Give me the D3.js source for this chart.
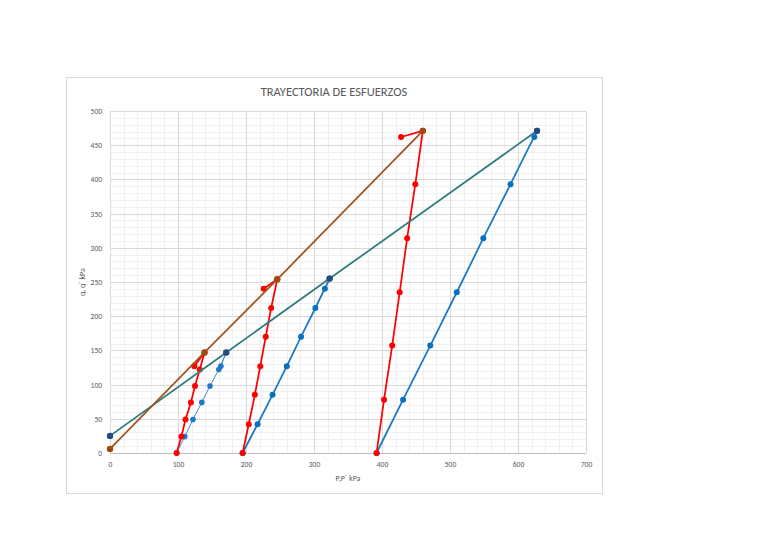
<!DOCTYPE html>
<html>
<head>
<meta charset="utf-8">
<script src="https://cdn.jsdelivr.net/npm/d3@7"></script>
<style>
  body { margin: 0; background: #fff; }
  text { font-family: Calibri, Carlito, "Liberation Sans", "Open Sans", sans-serif; fill: #595959; }
</style>
</head>
<body>
<script>
// datos
const xTicks = [0, 100, 200, 300, 400, 500, 600, 700];
const yTicks = [0, 50, 100, 150, 200, 250, 300, 350, 400, 450, 500];

// envolventes de falla
const envBrownP = [0, 139, 246, 460];
const envBrownQ = [6, 147, 254, 471];
const envTealP = [0, 171, 323, 628];
const envTealQ = [25, 147, 255, 471];

// trayectorias efectivas (rojo)
const red1P = [98, 105, 111, 119, 125, 132, 139, 124];
const red1Q = [0, 24, 49, 74, 98, 122, 147, 127];
const red2P = [195, 204, 213, 221, 229, 237, 246, 226];
const red2Q = [0, 42, 85, 127, 170, 212, 254, 240];
const red3P = [392, 403, 415, 426, 437, 449, 460, 428];
const red3Q = [0, 78, 157, 235, 314, 393, 471, 462];

// trayectorias totales (azul)
const blue1P = [98, 110, 122, 135, 147, 160, 171, 163];
const blue1Q = [0, 24, 49, 74, 98, 122, 147, 127];
const blue2P = [195, 217, 239, 260, 281, 302, 323, 316];
const blue2Q = [0, 42, 85, 127, 170, 212, 255, 240];
const blue3P = [392, 431, 471, 510, 549, 589, 628, 624];
const blue3Q = [0, 78, 157, 235, 314, 393, 471, 462];

const W = 768, H = 543;
const pLeft = 110, pRight = 586, pTop = 111, pBottom = 453;

const svg = d3.select("body").append("svg")
    .attr("width", W)
    .attr("height", H);

// marco del grafico
svg.append("rect")
    .attr("x", 66.5).attr("y", 77.5)
    .attr("width", 536).attr("height", 416)
    .attr("fill", "#fff")
    .attr("stroke", "#d9d9d9");

svg.append("text")
    .attr("x", 334).attr("y", 96)
    .attr("text-anchor", "middle")
    .attr("font-size", 12.5)
    .text("TRAYECTORIA DE ESFUERZOS");

const x = d3.scaleLinear([0, 700], [pLeft, pRight]);
const y = d3.scaleLinear([0, 500], [pBottom, pTop]);

// cuadricula menor
const grid = svg.append("g");
grid.selectAll(".vminor")
    .data(d3.range(0, 701, 20))
    .enter().append("line")
    .attr("x1", d => Math.round(x(d)) + 0.5).attr("x2", d => Math.round(x(d)) + 0.5)
    .attr("y1", pTop).attr("y2", pBottom)
    .attr("stroke", "#f0f0f0");
grid.selectAll(".hminor")
    .data(d3.range(0, 501, 10))
    .enter().append("line")
    .attr("y1", d => Math.round(y(d)) + 0.5).attr("y2", d => Math.round(y(d)) + 0.5)
    .attr("x1", pLeft).attr("x2", pRight)
    .attr("stroke", "#f0f0f0");

// cuadricula mayor
grid.selectAll(".vmajor")
    .data(xTicks)
    .enter().append("line")
    .attr("x1", d => Math.round(x(d)) + 0.5).attr("x2", d => Math.round(x(d)) + 0.5)
    .attr("y1", pTop).attr("y2", pBottom)
    .attr("stroke", "#d9d9d9");
grid.selectAll(".hmajor")
    .data(yTicks)
    .enter().append("line")
    .attr("y1", d => Math.round(y(d)) + 0.5).attr("y2", d => Math.round(y(d)) + 0.5)
    .attr("x1", pLeft).attr("x2", pRight)
    .attr("stroke", "#d9d9d9");

// ejes
const xAxis = svg.append("g")
    .attr("transform", `translate(0, ${pBottom + 0.5})`)
    .call(d3.axisBottom(x).tickValues(xTicks).tickSize(0).tickPadding(8));
const yAxis = svg.append("g")
    .attr("transform", `translate(${pLeft}, 0)`)
    .call(d3.axisLeft(y).tickValues(yTicks).tickSize(0).tickPadding(8));
for (let ax of [xAxis, yAxis]) {
    ax.select(".domain").remove();
    ax.selectAll("text")
        .attr("font-size", 7.5)
        .attr("fill", "#595959")
        .style("font-family", "Calibri, Carlito, 'Liberation Sans', sans-serif");
}
svg.append("line")
    .attr("x1", pLeft).attr("x2", pRight)
    .attr("y1", pBottom + 0.5).attr("y2", pBottom + 0.5)
    .attr("stroke", "#bfbfbf");

svg.append("text")
    .attr("x", 348).attr("y", 481)
    .attr("text-anchor", "middle")
    .attr("font-size", 8)
    .text("P,P´ kPa");
svg.append("text")
    .attr("transform", "translate(85, 282) rotate(-90)")
    .attr("text-anchor", "middle")
    .attr("font-size", 8)
    .text("q, q´ kPa");

const lineMaker = d3.line()
    .x(d => x(d[0]))
    .y(d => y(d[1]));

function serie(ps, qs, color, width, markerColor, r) {
    const pts = ps.map((p, i) => [p, qs[i]]);
    const g = svg.append("g");
    g.append("path")
        .datum(pts)
        .attr("fill", "none")
        .attr("stroke", color)
        .attr("stroke-width", width)
        .attr("stroke-linejoin", "round")
        .attr("d", lineMaker);
    g.selectAll("circle")
        .data(pts)
        .enter().append("circle")
        .attr("cx", d => x(d[0]))
        .attr("cy", d => y(d[1]))
        .attr("r", r)
        .attr("fill", markerColor);
}

serie(blue1P, blue1Q, "#3d8fd6", 1, "#1f77c8", 2.8);
serie(blue2P, blue2Q, "#1a78c8", 1.75, "#0b6fc0", 3);
serie(blue3P, blue3Q, "#1a78c8", 1.75, "#0b6fc0", 3);
serie(red1P, red1Q, "#ff0000", 1.75, "#ff0000", 3);
serie(red2P, red2Q, "#ff0000", 1.75, "#ff0000", 3);
serie(red3P, red3Q, "#ff0000", 1.75, "#ff0000", 3);
serie(envTealP, envTealQ, "#2d7b7f", 1.75, "#254a7c", 3.2);
serie(envBrownP, envBrownQ, "#a3531c", 1.75, "#9e4a10", 3.2);
</script>
</body>
</html>
